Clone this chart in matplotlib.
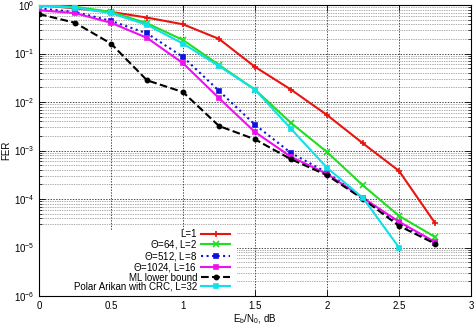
import numpy as np
import matplotlib as mpl
mpl.use('Agg')
import matplotlib.pyplot as plt
from matplotlib.patches import Rectangle

# Eb/N0 in dB
ebn0 = [0, 0.25, 0.5, 0.75, 1.0, 1.25, 1.5, 1.75, 2.0, 2.25, 2.5, 2.75]

fer_L1 = [1.0, 0.85, 0.72, 0.55, 0.40, 0.20, 0.053, 0.018, 5.4e-3, 1.4e-3, 3.8e-4, 3.2e-5]
fer_T64 = [1.0, 0.92, 0.72, 0.42, 0.19, 0.058, 0.018, 3.7e-3, 9.3e-4, 1.9e-4, 4.5e-5, 1.65e-5]
fer_T512 = [0.85, 0.72, 0.47, 0.26, 0.085, 0.017, 3.4e-3, 8.9e-4, 3.5e-4, 1.05e-4, 3.2e-5, 1.25e-5]
fer_T1024 = [0.78, 0.68, 0.43, 0.21, 0.063, 0.012, 2.4e-3, 7.4e-4, 3.3e-4, 1.05e-4, 3.4e-5, 1.3e-5]
fer_ML = [0.65, 0.43, 0.16, 0.028, 0.016, 3.2e-3, 1.7e-3, 6.6e-4, 3.1e-4, 1.0e-4, 2.8e-5, 1.2e-5]
fer_CRC = [0.97, 0.88, 0.68, 0.39, 0.16, 0.055, 0.018, 2.8e-3, 4.4e-4, 1.05e-4, 1.0e-5]

labels = ['L=1', r'$\Theta$=64, L=2', r'$\Theta$=512, L=8', r'$\Theta$=1024, L=16',
          'ML lower bound', 'Polar Arikan with CRC, L=32']

plt.rcParams['font.family'] = ['Liberation Sans', 'DejaVu Sans']
plt.rcParams['mathtext.fontset'] = 'custom'
plt.rcParams['mathtext.rm'] = 'Liberation Sans'
plt.rcParams['mathtext.it'] = 'Liberation Sans'
ftsize = 7

fig = plt.figure(figsize=(4.74, 3.25), dpi=100)
ax = fig.add_axes([39/474, 1-296/325, (471-39)/474, (296-5)/325])
ax.set_axisbelow(True)

series = [fer_L1, fer_T64, fer_T512, fer_T1024, fer_ML, fer_CRC]
colors = ['#e8140f', '#22dd22', '#1010e0', '#ee10ee', 'black', '#10e0e8']
styles = ['-', '-', ':', '-', '--', '-']
markers = ['+', 'x', 's', 's', 'o', 's']
msizes = [4, 4, 3.5, 3.5, 3, 3.5]

handles = []
for k, y in enumerate(series):
    h, = ax.plot(ebn0[:len(y)], y, color=colors[k], ls=styles[k], lw=1.5,
                 marker=markers[k], ms=msizes[k], mew=1.2, label=labels[k], zorder=3)
    handles.append(h)

ax.set_yscale('log')
ax.set_xlim(0, 3)
ax.set_ylim(1e-6, 1)
ax.set_xticks([0, 0.5, 1, 1.5, 2, 2.5, 3])
ax.set_xticklabels(['0', '0.5', '1', '1.5', '2', '2.5', '3'])

ax.grid(True, which='major', axis='both', color='black', ls=(0, (2, 2)), lw=0.5)
ax.grid(True, which='minor', axis='y', color='0.35', ls=(0, (1, 1.5)), lw=0.5)
ax.tick_params(which='both', direction='in', top=True, right=True, labelsize=ftsize)
ax.tick_params(which='major', length=4, width=0.6)
ax.tick_params(which='minor', length=2, width=0.5)
for s in ax.spines.values():
    s.set_linewidth(0.8)

ax.set_xlabel(r'E$_\mathrm{b}$/N$_\mathrm{0}$, dB', fontsize=ftsize, labelpad=1)
ax.set_ylabel('FER', fontsize=ftsize, labelpad=2)

# white key area that hides the grid, as in the original
ax.add_patch(Rectangle((0, 0), (237-39)/432, (296-231)/291, transform=ax.transAxes,
                       facecolor='white', edgecolor='none', zorder=1))

leg = ax.legend(handles=handles, loc='lower right', bbox_to_anchor=((235-39)/432, 0.0),
                fontsize=ftsize, markerfirst=False, frameon=False,
                handlelength=3.0, labelspacing=-0.15,
                borderpad=0.5, handletextpad=0.4, borderaxespad=0.0)
for t in leg.get_texts():
    t.set_ha('right')
leg._legend_box.align = 'right'

fig.savefig('out.png', dpi=100)
